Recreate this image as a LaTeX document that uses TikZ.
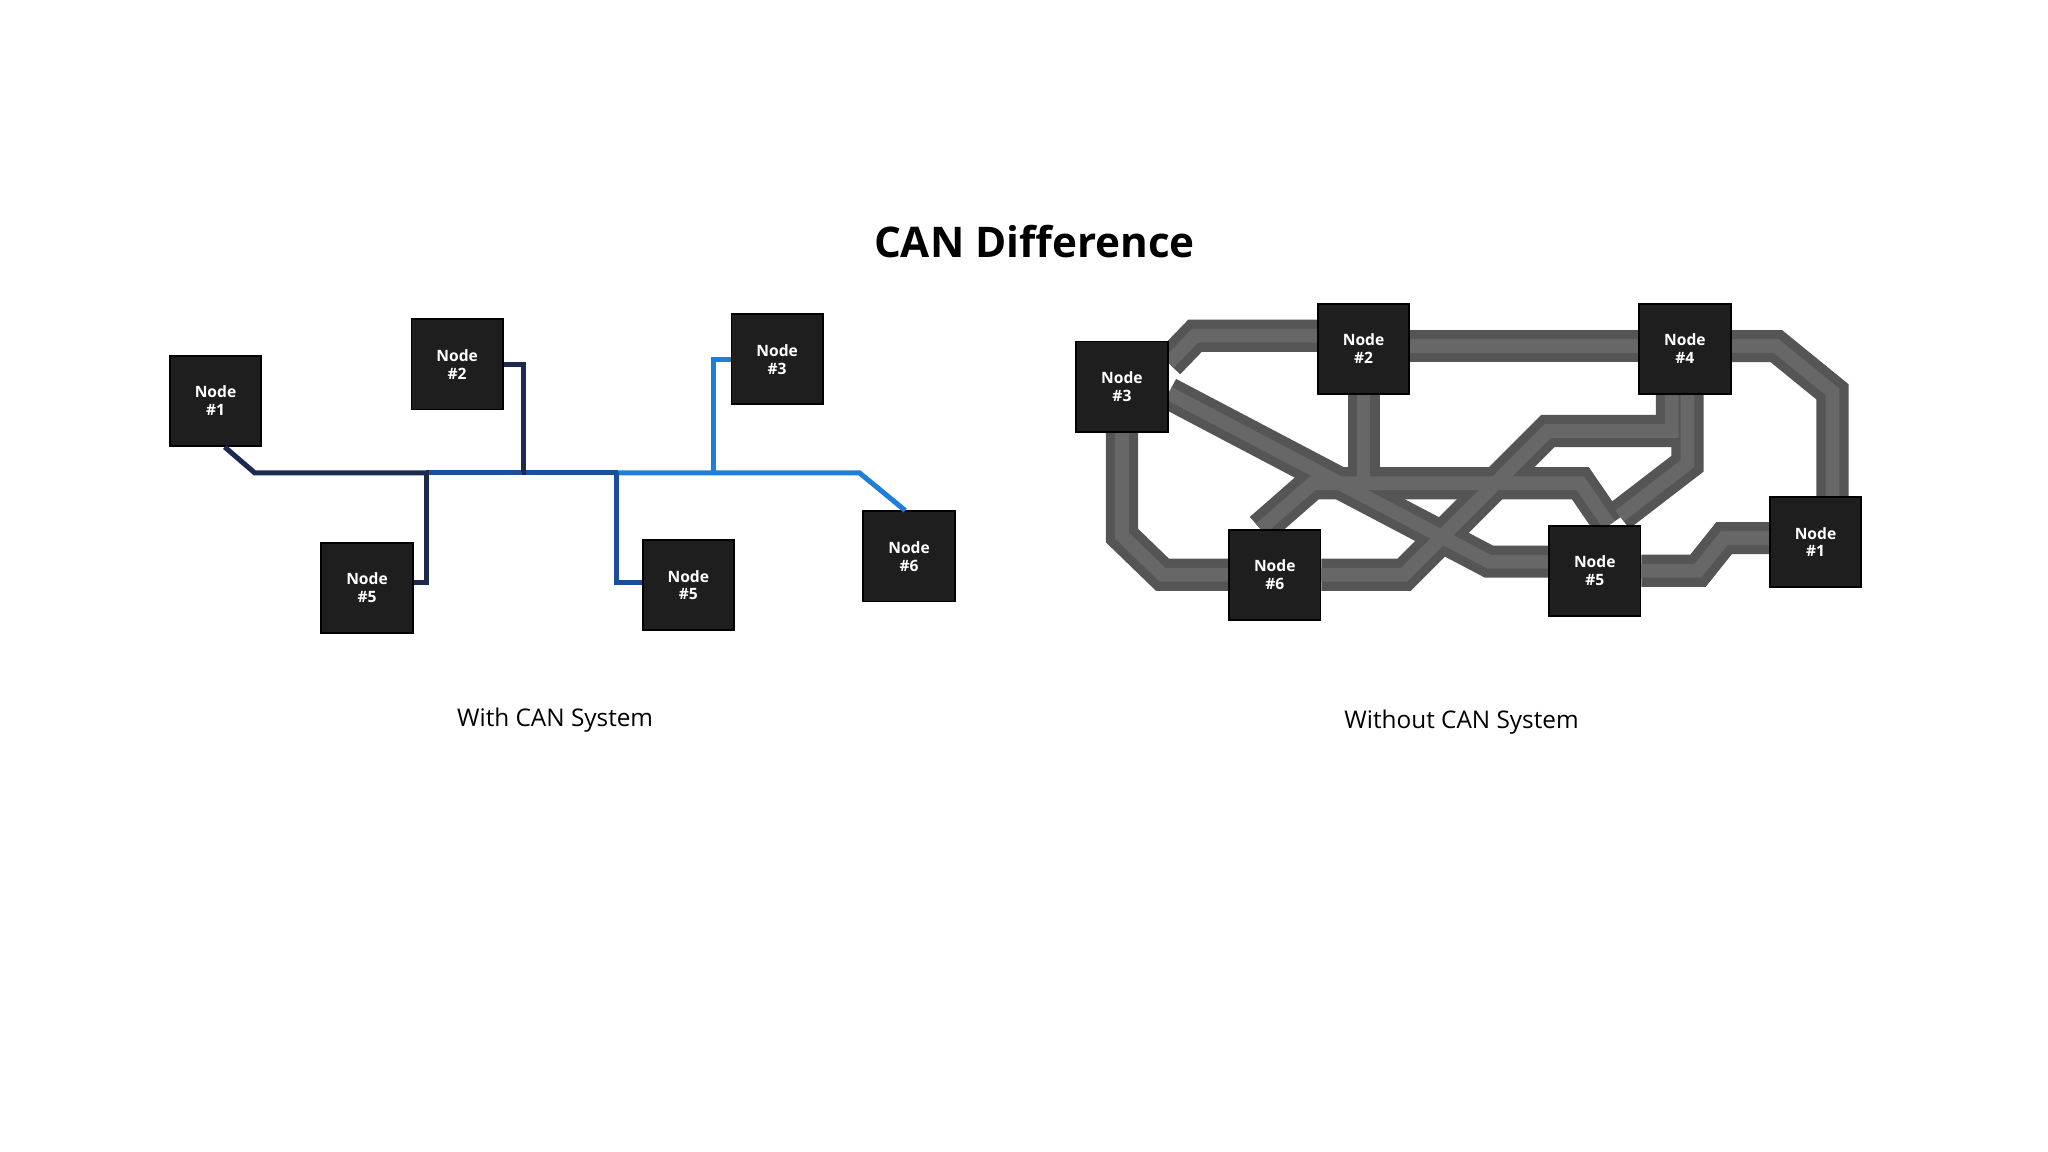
\documentclass[tikz,border=0pt]{standalone}
\usepackage{fontspec}
\setmainfont{Open Sans}
\usetikzlibrary{calc,backgrounds}
\definecolor{busA}{HTML}{1B2A4E}
\definecolor{busB}{HTML}{1A4F9A}
\definecolor{busC}{HTML}{1E7FD8}
\definecolor{box}{HTML}{1E1E1E}
\definecolor{rib}{HTML}{555555}
\definecolor{ribhi}{HTML}{676767}
\begin{document}
\begin{tikzpicture}[x=0.1mm,y=-0.1mm,
  ecu/.style={draw=black,fill=box,minimum width=7mm,minimum height=6.9mm,inner sep=0pt,
    text=white,align=center,font=\bfseries\fontsize{3.4}{3.9}\selectfont},
  bus/.style={line width=1.1pt},
  ribbon/.style={line width=7pt,draw=rib,line join=miter},
  ribtop/.style={line width=3pt,draw=ribhi,line join=miter},
  lbl/.style={font=\fontsize{5.3}{6}\selectfont}]
\useasboundingbox (0,0) rectangle (1568,882);
\node[font=\bfseries\fontsize{9.2}{11}\selectfont] (title) at (792,185) {CAN Difference};

% with CAN
\coordinate (b0) at (195,362);
\coordinate (b1) at (658,362);
\node[ecu] (a1) at (165,307) {Node\\\#1};
\node[ecu] (a2) at (350,279) {Node\\\#2};
\node[ecu] (a3) at (595,275) {Node\\\#3};
\node[ecu] (a5) at (281,450) {Node\\\#5};
\node[ecu] (b5) at (527,448) {Node\\\#5};
\node[ecu] (a6) at (696,426) {Node\\\#6};
\draw[bus,busA] ($(a1.south)+(7,0)$) -- (b0) -- (326,362);
\draw[bus,busB] (326,362) -- (473,362);
\draw[bus,busC] (473,362) -- (b1) -- ($(a6.north)+(-3,0)$);
\draw[bus,busA] (a2.east) -- ++(15,0) |- (400,362);
\draw[bus,busC] (a3.west) -- ++(-13,0) |- (547,362);
\draw[bus,busA] ($(a5.east)+(0,-4)$) -- ++(10,0) |- (326,362);
\draw[bus,busB] ($(b5.west)+(0,-2)$) -- ++(-19,0) |- (473,362);
\node[lbl] (capa) at (425,551) {With CAN System};

% without CAN
\node[ecu] (c3) at (859,296) {Node\\\#3};
\node[ecu] (c2) at (1044,267) {Node\\\#2};
\node[ecu] (c4) at (1290,267) {Node\\\#4};
\node[ecu] (c6) at (976,440) {Node\\\#6};
\node[ecu] (c5) at (1221,437) {Node\\\#5};
\node[ecu] (c1) at (1390,415) {Node\\\#1};
\begin{scope}[on background layer]
\foreach \s in {ribbon,ribtop}{
  \draw[\s] ($(c3.east)+(0,-18)$) -- (915,257) -- (c2.west|-915,257);
  \draw[\s] (c2.east|-0,265) -- (c4.west|-0,265);
  \draw[\s] (c4.east|-0,265) -- (1360,265) -- (1403,300) -- (1403,380);
  \draw[\s] (c3.south) -- (859,410) -- (890,440) -- (c6.west);
  \draw[\s] (c6.east) -- (1075,440) -- (1185,330) -- (1280,330) -- (1280,302);
  \draw[\s] ($(c3.east)+(0,5)$) -- (1140,430) -- (c5.west|-0,430);
  \draw[\s] (c2.south) -- (1044,370);
  \draw[\s] (965,405) -- (1005,370) -- (1210,370) -- (1232,402);
  \draw[\s] (1292,302) -- (1292,355) -- (1240,395);
  \draw[\s] (c5.east) -- (1300,437) -- (1320,412) -- (c1.west|-0,412);
}
\end{scope}
\node[lbl] (capb) at (1119,553) {Without CAN System};
\end{tikzpicture}
\end{document}
